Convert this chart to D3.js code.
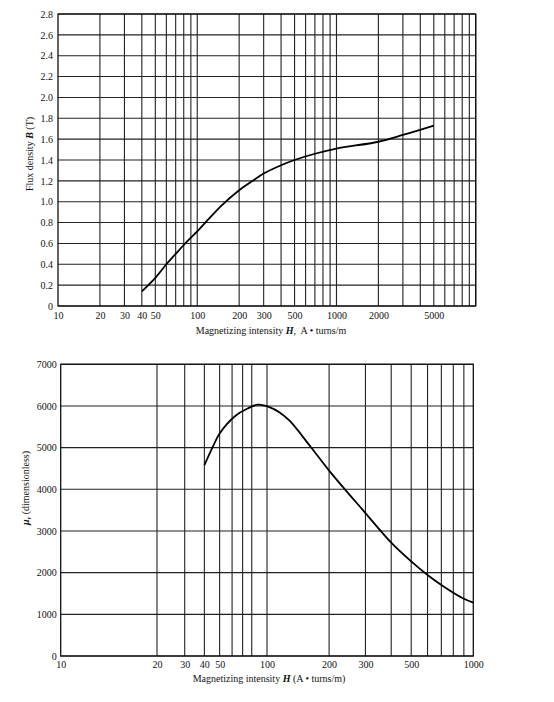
<!DOCTYPE html>
<html>
<head>
<meta charset="utf-8">
<script src="https://cdn.jsdelivr.net/npm/d3@7"></script>
<style>
  body { margin: 0; background: #fff; }
  text { font-family: "Liberation Serif", "DejaVu Serif", serif; fill: #111; }
</style>
</head>
<body>
<div id="chart"></div>
<script>
// --- top chart: flux density B vs magnetizing intensity H ---
const hTop = [40, 50, 60, 70, 80, 90, 100, 120, 150, 200, 250, 300, 400, 500, 700, 1000, 2000, 3000, 5000];
const bVals = [0.14, 0.27, 0.40, 0.50, 0.585, 0.655, 0.715, 0.83, 0.965, 1.11, 1.20, 1.27, 1.35, 1.40, 1.46, 1.51, 1.575, 1.64, 1.73];
const bTicks = [0, 0.2, 0.4, 0.6, 0.8, 1.0, 1.2, 1.4, 1.6, 1.8, 2.0, 2.2, 2.4, 2.6, 2.8];
const hTopLabels = [10, 20, 30, 40, 50, 100, 200, 300, 500, 1000, 2000, 5000];

// --- bottom chart: relative permeability vs H ---
const hBot = [40, 45, 50, 62.8, 75.2, 87.6, 103.4, 115.6, 129, 163, 200, 300, 400, 500, 600, 700, 800, 900, 1000];
const muVals = [4580, 5000, 5340, 5760, 5940, 6030, 5968, 5840, 5640, 5016, 4450, 3430, 2720, 2270, 1944, 1704, 1519, 1375, 1279];
const muTicks = [0, 1000, 2000, 3000, 4000, 5000, 6000, 7000];
const hBotLabels = [10, 20, 30, 40, 50, 100, 200, 300, 500, 1000];
const hBotGrid = [20, 30, 40, 50, 60, 70, 80, 100, 200, 300, 400, 500, 600, 700, 800, 900];

const W = 554, H = 702;
const svg = d3.select('#chart').append('svg')
    .attr('width', W).attr('height', H)
    .style('background', 'white');

// log grid values 20..10000 for the top chart
let hTopGrid = [];
[10, 100, 1000].forEach(dec => {
    for (let k = 1; k <= 9; k++) if (dec * k > 10) hTopGrid.push(dec * k);
});
hTopGrid.push(10000);

function drawPanel(cfg) {
    const g = svg.append('g');
    const x = cfg.x, y = cfg.y;
    const [x0, x1] = [x.range()[0], x.range()[x.range().length - 1]];
    const [y0, y1] = y.range();

    // vertical grid
    g.selectAll('line.vg').data(cfg.xGrid).join('line')
        .attr('x1', d => x(d)).attr('x2', d => x(d))
        .attr('y1', y0).attr('y2', y1)
        .attr('stroke', '#222').attr('stroke-width', 1.1);
    // horizontal grid
    g.selectAll('line.hg').data(cfg.yTicks).join('line')
        .attr('x1', x0).attr('x2', x1)
        .attr('y1', d => y(d)).attr('y2', d => y(d))
        .attr('stroke', '#222').attr('stroke-width', 1.1);
    // frame
    g.append('rect')
        .attr('x', x0).attr('y', y1)
        .attr('width', x1 - x0).attr('height', y0 - y1)
        .attr('fill', 'none').attr('stroke', '#111').attr('stroke-width', 1.3);

    // tick labels
    const xa = g.append('g').attr('transform', `translate(0,${y0})`)
        .call(d3.axisBottom(x).tickValues(cfg.xLabels).tickFormat(d3.format('d'))
            .tickSize(0).tickPadding(cfg.xPad));
    const ya = g.append('g').attr('transform', `translate(${x0},0)`)
        .call(d3.axisLeft(y).tickValues(cfg.yTicks).tickFormat(cfg.yFormat)
            .tickSize(0).tickPadding(cfg.yPad));
    [xa, ya].forEach(a => {
        a.select('.domain').remove();
        a.selectAll('text').attr('font-size', 10)
            .attr('font-family', '"Liberation Serif", serif').attr('fill', '#111');
    });

    // curve
    const line = d3.line()
        .x(d => x(d[0])).y(d => y(d[1]))
        .curve(d3.curveCatmullRom.alpha(0.5));
    g.append('path')
        .datum(d3.zip(cfg.hs, cfg.vs))
        .attr('d', line)
        .attr('fill', 'none').attr('stroke', '#000').attr('stroke-width', 1.8);
    return g;
}

// top panel
const xTop = d3.scaleLog().domain([10, 10000]).range([58, 475.7]);
const yTop = d3.scaleLinear().domain([0, 2.8]).range([306, 14]);
drawPanel({
    x: xTop, y: yTop, xGrid: hTopGrid, yTicks: bTicks, xLabels: hTopLabels,
    yFormat: d => d === 0 ? '0' : d.toFixed(1), xPad: 5.5, yPad: 5,
    hs: hTop, vs: bVals
});

// bottom panel (axis is compressed between 10 and 20 in the original)
const xBot = d3.scaleLog().domain([10, 20, 100, 1000]).range([60.7, 157, 267, 473.3]);
const yBot = d3.scaleLinear().domain([0, 7000]).range([656, 364.3]);
drawPanel({
    x: xBot, y: yBot, xGrid: hBotGrid, yTicks: muTicks, xLabels: hBotLabels,
    yFormat: d3.format('d'), xPad: 5, yPad: 4,
    hs: hBot, vs: muVals
});

// axis titles
const t1 = svg.append('text').attr('x', 271).attr('y', 333.5)
    .attr('text-anchor', 'middle').attr('font-size', 10);
t1.append('tspan').text('Magnetizing intensity ');
t1.append('tspan').attr('font-style', 'italic').attr('font-weight', 'bold').text('H');
t1.append('tspan').text(',\u00a0 A \u2022 turns/m');

const t2 = svg.append('text').attr('x', 269).attr('y', 682)
    .attr('text-anchor', 'middle').attr('font-size', 10);
t2.append('tspan').text('Magnetizing intensity ');
t2.append('tspan').attr('font-style', 'italic').attr('font-weight', 'bold').text('H');
t2.append('tspan').text(' (A \u2022 turns/m)');

const t3 = svg.append('text').attr('transform', 'translate(33,154) rotate(-90)')
    .attr('text-anchor', 'middle').attr('font-size', 10);
t3.append('tspan').text('Flux density ');
t3.append('tspan').attr('font-style', 'italic').attr('font-weight', 'bold').text('B');
t3.append('tspan').text(' (T)');

const t4 = svg.append('text').attr('transform', 'translate(29,488) rotate(-90)')
    .attr('text-anchor', 'middle').attr('font-size', 10);
t4.append('tspan').attr('font-style', 'italic').attr('font-weight', 'bold').text('\u03bc');
t4.append('tspan').attr('font-style', 'italic').attr('font-weight', 'bold')
    .attr('font-size', 7).attr('dy', 2).text('r');
t4.append('tspan').attr('dy', -2).text(' (dimensionless)');
</script>
</body>
</html>
